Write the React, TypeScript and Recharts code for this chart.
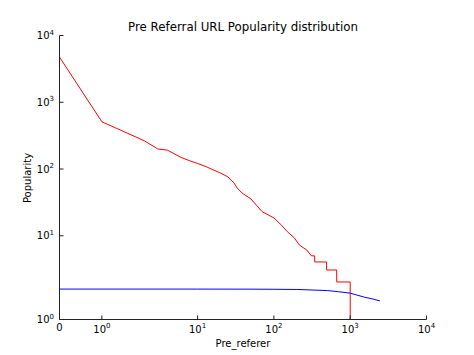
import React from "react";
import { LineChart, Line, XAxis, YAxis } from "recharts";

// symlog transform (base 10, linthresh 2, linscale 1) like matplotlib
const LINTHRESH = 2;
const LINSCALE_ADJ = 1 / (1 - 1 / 10);
const symlog = (v: number) => {
  const a = Math.abs(v);
  if (a <= LINTHRESH) return (v / LINTHRESH) * LINSCALE_ADJ;
  return Math.sign(v) * (LINSCALE_ADJ + Math.log10(a / LINTHRESH));
};

// red series: popularity by rank
const redRank = [
  0, 1, 2, 3, 4, 5, 6, 8, 10, 13, 16, 20, 25, 30, 33, 38, 50, 70, 100, 125,
  150, 185, 215, 270, 310, 342, 343, 490, 491, 665, 666, 1000, 1001, 2450,
];
const redPop = [
  4750, 510, 265, 200, 192, 168, 150, 132, 121, 108, 97, 87, 76, 62, 52, 44,
  35.6, 23, 18.5, 14.5, 11.5, 9.3, 7.3, 6.1, 5.0, 5.0, 4.05, 4.05, 3.07, 3.07,
  2.03, 2.03, 1, 1,
];

// blue series: fitted curve
const blueRank = [0, 1, 10, 50, 100, 200, 500, 700, 1000, 1550, 2000, 2450];
const bluePop = [1.82, 1.82, 1.82, 1.818, 1.815, 1.81, 1.78, 1.75, 1.71, 1.6, 1.55, 1.5];

const xTickVals = [0, 1, 10, 100, 1000, 10000];
const yTickVals = [1, 10, 100, 1000, 10000];
const xTickPos = xTickVals.map(symlog);
const yTickPos = yTickVals.map(symlog);

const redRows = redRank.map((r, i) => ({ tx: symlog(r), ty: symlog(redPop[i]) }));
const blueRows = blueRank.map((r, i) => ({ tx: symlog(r), ty: symlog(bluePop[i]) }));

const W = 474;
const H = 355;
const PLOT_LEFT = 59.5;
const PLOT_RIGHT = 426.5;
const PLOT_TOP = 35.5;
const PLOT_BOTTOM = 319.5;
const FONT = "DejaVu Sans";
const INK = "#222";

const lookup = (pos: number[], vals: number[], v: number) => {
  const i = pos.findIndex((p) => Math.abs(p - v) < 1e-9);
  return i < 0 ? null : vals[i];
};

const Pow = ({ x, y, v, anchor }: { x: number; y: number; v: number; anchor: string }) =>
  v === 0 ? (
    <text x={x} y={y - 1.5} textAnchor={anchor} fontFamily={FONT} fontSize={10} fill="#000">
      0
    </text>
  ) : (
    <text x={x} y={y} textAnchor={anchor} fontFamily={FONT} fontSize={10} fill="#000">
      <tspan>10</tspan>
      <tspan dy={-4.5} fontSize={7}>
        {Math.round(Math.log10(v))}
      </tspan>
    </text>
  );

const BottomTick = (props: any) => {
  const { x, payload } = props;
  const v = lookup(xTickPos, xTickVals, payload.value);
  if (v === null) return null;
  return (
    <g>
      <line x1={x} x2={x} y1={PLOT_BOTTOM} y2={PLOT_BOTTOM - 4} stroke={INK} />
      <Pow x={x} y={332.5} v={v} anchor="middle" />
    </g>
  );
};

const TopTick = (props: any) => (
  <line x1={props.x} x2={props.x} y1={PLOT_TOP} y2={PLOT_TOP + 4} stroke={INK} />
);

const LeftTick = (props: any) => {
  const { y, payload } = props;
  const v = lookup(yTickPos, yTickVals, payload.value);
  if (v === null) return null;
  return (
    <g>
      <line x1={PLOT_LEFT} x2={PLOT_LEFT + 4} y1={y} y2={y} stroke={INK} />
      <Pow x={54} y={y + 3.5} v={v} anchor="end" />
    </g>
  );
};

const RightTick = (props: any) => (
  <line x1={PLOT_RIGHT} x2={PLOT_RIGHT - 4} y1={props.y} y2={props.y} stroke={INK} />
);

export default function App() {
  const xDomain = [0, symlog(10000)];
  const yDomain = [symlog(1), symlog(10000)];
  return (
    <div style={{ position: "absolute", left: 0, top: 0, width: W, height: H, background: "#fff" }}>
      <LineChart
        width={W}
        height={H}
        margin={{ top: PLOT_TOP, right: W - PLOT_RIGHT, bottom: 0, left: 0 }}
      >
        <XAxis
          xAxisId={0}
          type="number"
          dataKey="tx"
          domain={xDomain}
          ticks={xTickPos}
          interval={0}
          height={H - PLOT_BOTTOM}
          tickSize={0}
          tickMargin={0}
          tickLine={false}
          tick={BottomTick}
          axisLine={{ stroke: INK }}
          allowDataOverflow
        />
        <XAxis
          xAxisId="top"
          orientation="top"
          type="number"
          domain={xDomain}
          ticks={xTickPos}
          interval={0}
          height={0}
          tickSize={0}
          tickLine={false}
          tick={TopTick}
          axisLine={{ stroke: INK }}
          allowDataOverflow
        />
        <YAxis
          yAxisId={0}
          type="number"
          domain={yDomain}
          ticks={yTickPos}
          interval={0}
          width={PLOT_LEFT}
          tickSize={0}
          tickMargin={0}
          tickLine={false}
          tick={LeftTick}
          axisLine={{ stroke: INK }}
          allowDataOverflow
        />
        <YAxis
          yAxisId="right"
          orientation="right"
          type="number"
          domain={yDomain}
          ticks={yTickPos}
          interval={0}
          width={0}
          tickSize={0}
          tickLine={false}
          tick={RightTick}
          axisLine={{ stroke: INK }}
          allowDataOverflow
        />
        <Line
          data={redRows}
          dataKey="ty"
          type="linear"
          stroke="#ff0000"
          strokeWidth={1}
          dot={false}
          activeDot={false}
          isAnimationActive={false}
        />
        <Line
          data={blueRows}
          dataKey="ty"
          type="linear"
          stroke="#0000ff"
          strokeWidth={1}
          dot={false}
          activeDot={false}
          isAnimationActive={false}
        />
      </LineChart>
      <svg
        width={W}
        height={H}
        style={{ position: "absolute", left: 0, top: 0, pointerEvents: "none" }}
      >
        <text x={243} y={30.5} textAnchor="middle" fontFamily={FONT} fontSize={11.8} fill="#000">
          Pre Referral URL Popularity distribution
        </text>
        <text x={243} y={347} textAnchor="middle" fontFamily={FONT} fontSize={10} fill="#000">
          Pre_referer
        </text>
        <text
          x={31}
          y={178}
          transform="rotate(-90 31 178)"
          textAnchor="middle"
          fontFamily={FONT}
          fontSize={10}
          fill="#000"
        >
          Popularity
        </text>
      </svg>
    </div>
  );
}
